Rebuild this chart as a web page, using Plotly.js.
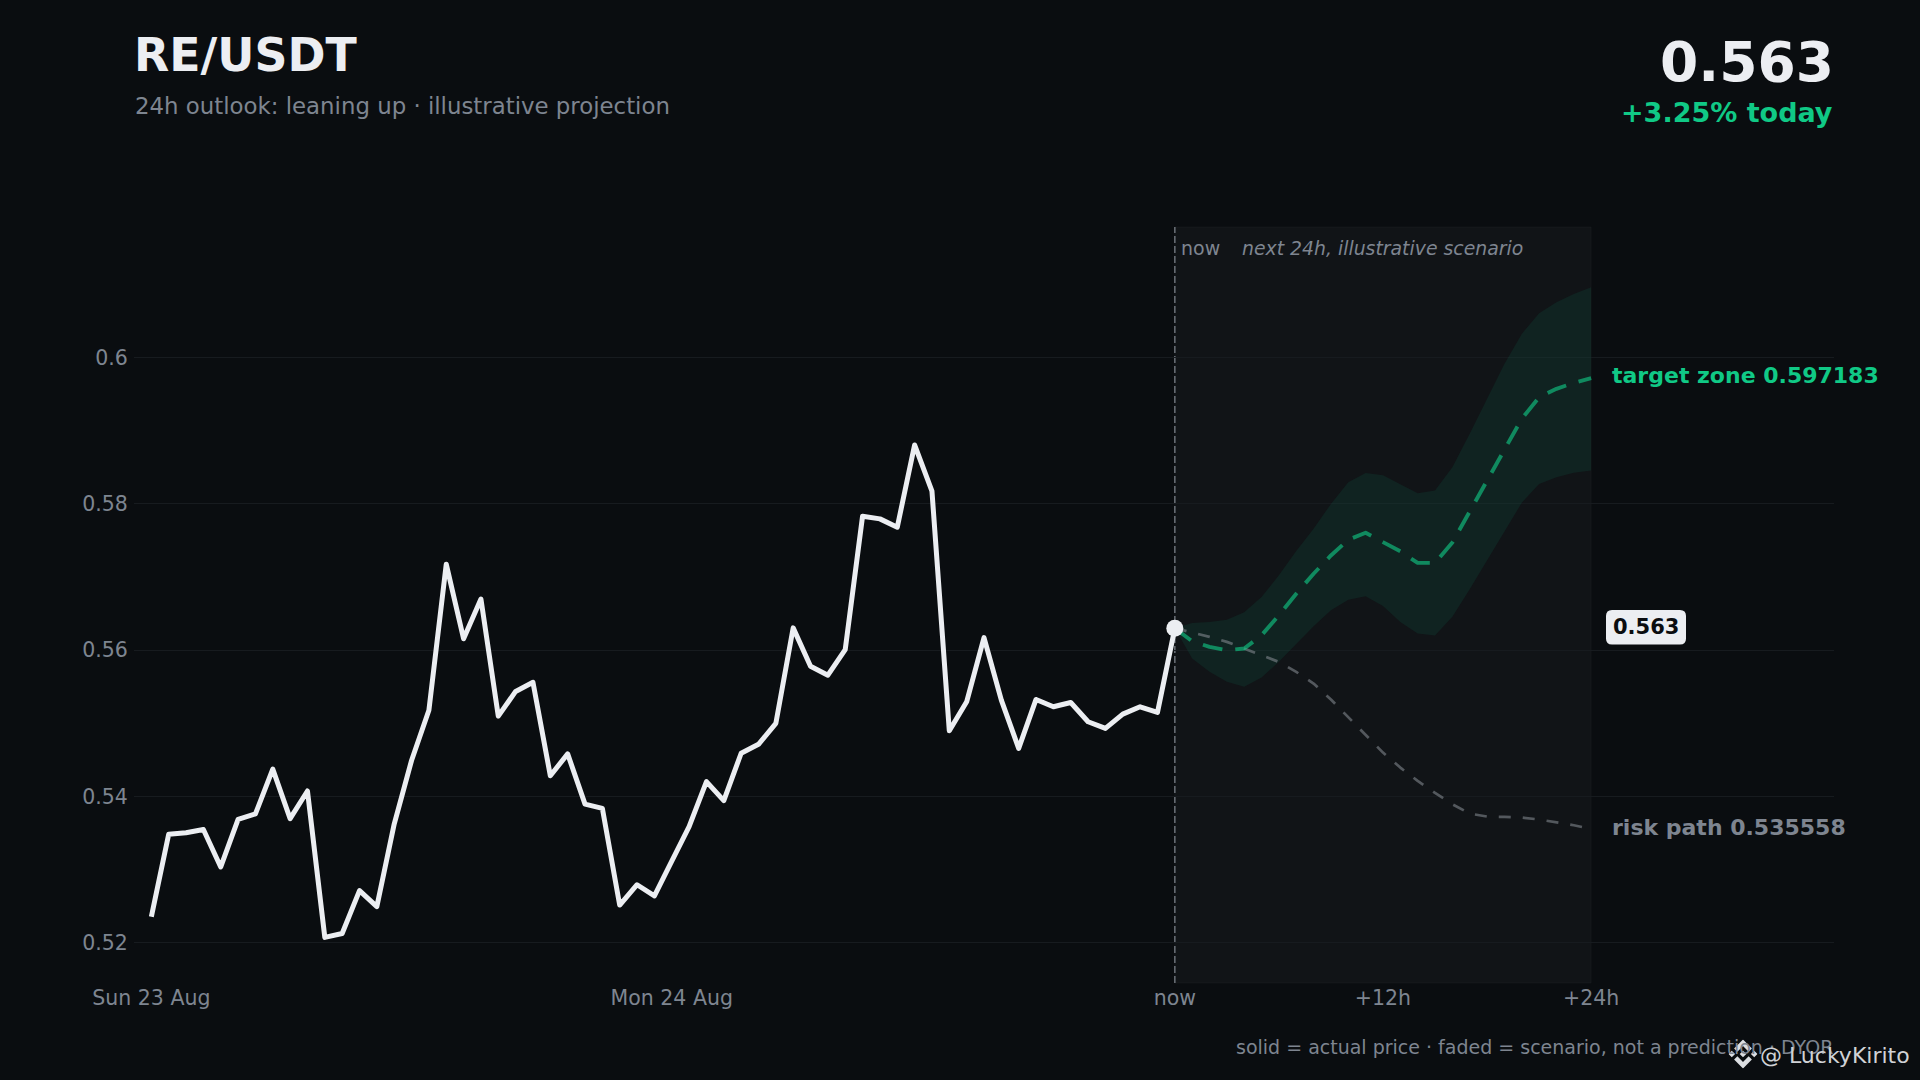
<!DOCTYPE html>
<html>
<head>
<meta charset="utf-8">
<title>RE/USDT</title>
<script src="https://cdn.plot.ly/plotly-3.0.1.min.js"></script>
<style>
  html, body { margin: 0; padding: 0; background: #0a0d10; }
  #grafico path.js-line { stroke-linejoin: round !important; }
</style>
</head>
<body>
<div id="grafico" style="width:1920px;height:1080px;"></div>
<script>
/* =========================================
   DATA
========================================= */

const precoReal = [
    0.52358, 0.53485, 0.53505, 0.5355, 0.53038, 0.53689, 0.53763, 0.54374, 0.53699, 0.54076,
    0.52075, 0.52129, 0.52715, 0.52497, 0.53624, 0.54493, 0.55179, 0.57176, 0.56157, 0.5670,
    0.55099, 0.55437, 0.55561, 0.54285, 0.54583, 0.53897, 0.53838, 0.52517, 0.52795, 0.52642,
    0.53116, 0.5359, 0.54205, 0.53945, 0.54592, 0.54714, 0.55, 0.56305, 0.55782, 0.55659,
    0.56009, 0.57832, 0.57795, 0.57682, 0.58805, 0.58173, 0.549, 0.55295, 0.56173, 0.55318,
    0.54659, 0.55327, 0.55227, 0.55286, 0.55023, 0.54932, 0.55127, 0.55227, 0.5515, 0.563
];

const alvoCentro = [
    0.563, 0.56123, 0.56045, 0.56, 0.56023, 0.56205, 0.56477, 0.56773, 0.57045, 0.57295,
    0.57509, 0.57605, 0.57477, 0.57351, 0.57194, 0.57194, 0.57473, 0.579, 0.58319, 0.58729,
    0.59162, 0.59458, 0.59572, 0.59654, 0.597183
];

const alvoTopo = [
    0.563, 0.56373, 0.56386, 0.56418, 0.56518, 0.56727, 0.57023, 0.57355, 0.57659, 0.58,
    0.58295, 0.58423, 0.58392, 0.58264, 0.58146, 0.58182, 0.58501, 0.58957, 0.59435, 0.59913,
    0.60323, 0.60606, 0.60756, 0.6087, 0.60961
];

const alvoBase = [
    0.563, 0.55886, 0.55705, 0.55568, 0.555, 0.55627, 0.55841, 0.56082, 0.56327, 0.56545,
    0.56691, 0.56736, 0.56605, 0.56385, 0.56229, 0.56201, 0.56458, 0.56832, 0.57222, 0.5763,
    0.58015, 0.58273, 0.58364, 0.58424, 0.58456
];

const caminhoRisco = [
    0.563, 0.56246, 0.56182, 0.56114, 0.56023, 0.55941, 0.5584, 0.55704, 0.55544, 0.55326,
    0.55089, 0.54838, 0.54601, 0.54396, 0.54214, 0.5405, 0.53895, 0.53767, 0.53727, 0.53722,
    0.53713, 0.53686, 0.53649, 0.53608, 0.535558
];

const yTicks = [0.52, 0.54, 0.56, 0.58, 0.6];
const yTickLabels = ["0.52", "0.54", "0.56", "0.58", "0.6"];
const xTicks = [0, 30, 59, 71, 83];
const xTickLabels = ["Sun 23 Aug", "Mon 24 Aug", "now", "+12h", "+24h"];

/* =========================================
   HELPERS
========================================= */

// plot box in page pixels
const caixa = {l: 134, r: 1834, t: 227, b: 983};

const fonte = "'DejaVu Sans', sans-serif";

function px(x){ return (x - caixa.l) / (caixa.r - caixa.l); }
function py(y){ return (caixa.b - y) / (caixa.b - caixa.t); }

function texto(txt, x, y, size, color, anchor){
    return {
        text: txt,
        xref: "paper",
        yref: "paper",
        x: px(x),
        y: py(y),
        xanchor: anchor || "left",
        yanchor: "middle",
        showarrow: false,
        borderpad: 0,
        font: {family: fonte, size: size, color: color}
    };
}

// rounded label box behind the current price
function caixaArredondada(x0, y0, x1, y1, r){
    let X0 = px(x0), X1 = px(x1), Y0 = py(y0), Y1 = py(y1);
    let rx = r / (caixa.r - caixa.l), ry = r / (caixa.b - caixa.t);
    return "M " + (X0 + rx) + " " + Y0 +
        " L " + (X1 - rx) + " " + Y0 +
        " Q " + X1 + " " + Y0 + " " + X1 + " " + (Y0 - ry) +
        " L " + X1 + " " + (Y1 + ry) +
        " Q " + X1 + " " + Y1 + " " + (X1 - rx) + " " + Y1 +
        " L " + (X0 + rx) + " " + Y1 +
        " Q " + X0 + " " + Y1 + " " + X0 + " " + (Y1 + ry) +
        " L " + X0 + " " + (Y0 - ry) +
        " Q " + X0 + " " + Y0 + " " + (X0 + rx) + " " + Y0 + " Z";
}

const logoBinance = "data:image/svg+xml;utf8," + encodeURIComponent(
    '<svg xmlns="http://www.w3.org/2000/svg" viewBox="0 0 126.61 126.61"><path fill="#dcdee2" d="M38.73 53.2l24.59-24.58 24.6 24.6 14.3-14.31L63.32 0 24.43 38.9zM0 63.31l14.3-14.3 14.31 14.3-14.31 14.3zM38.73 73.41l24.59 24.59 24.6-24.6 14.31 14.29-38.9 38.91-38.91-38.88zM98 63.31l14.3-14.3 14.31 14.3-14.31 14.3zM77.83 63.3L63.32 48.78 52.59 59.51l-1.24 1.23-2.54 2.54 14.51 14.5 14.51-14.47z"/></svg>'
);

/* =========================================
   GRAPH
========================================= */

let agora = precoReal.length - 1;
let xReal = precoReal.map((v, i) => i);
let xFuturo = alvoCentro.map((v, i) => agora + i);

let faixaTopo = {
    x: xFuturo,
    y: alvoTopo,
    mode: "lines",
    line: {width: 0},
    hoverinfo: "skip"
};

let faixaBase = {
    x: xFuturo,
    y: alvoBase,
    mode: "lines",
    line: {width: 0},
    fill: "tonexty",
    fillcolor: "rgba(16,201,134,0.085)",
    hoverinfo: "skip"
};

let risco = {
    x: xFuturo,
    y: caminhoRisco,
    mode: "lines",
    line: {color: "rgba(138,143,152,0.55)", width: 2.7, dash: "12px,12px"}
};

let centro = {
    x: xFuturo,
    y: alvoCentro,
    mode: "lines",
    line: {color: "rgba(16,201,134,0.62)", width: 3.9, dash: "20px,13px"}
};

let preco = {
    x: xReal,
    y: precoReal,
    mode: "lines",
    line: {color: "#eceef2", width: 5}
};

let ponto = {
    x: [agora],
    y: [precoReal[agora]],
    mode: "markers",
    marker: {color: "#eceef2", size: 17}
};

let anotacoes = [
    texto("<b>RE/USDT</b>", 133, 55, 45.8, "#eceef2"),
    texto("24h outlook: leaning up · illustrative projection", 134, 106, 22.85, "#7e8590"),
    texto("<b>0.563</b>", 1835, 62, 55, "#eceef2", "right"),
    texto("<b>+3.25% today</b>", 1834, 112, 27, "#10c986", "right"),
    texto("now", 1180, 248, 19, "#7e8590"),
    texto("<i>next 24h, illustrative scenario</i>", 1241, 248, 18.85, "#7e8590"),
    texto("<b>target zone 0.597183</b>", 1611, 375, 22, "#10c986"),
    texto("<b>risk path 0.535558</b>", 1611, 827, 22, "#7e8590"),
    texto("<b>0.563</b>", 1645.5, 627, 21, "#0a0d10", "center"),
    texto("solid = actual price · faded = scenario, not a prediction · DYOR", 1834, 1047, 19, "#7e8590", "right"),
    texto("@ LuckyKirito", 1911, 1055, 22, "#d0d2d6", "right")
];

let layout = {
    width: 1920,
    height: 1080,
    paper_bgcolor: "#0a0d10",
    plot_bgcolor: "#0a0d10",
    showlegend: false,
    hovermode: false,
    margin: {l: caixa.l, r: 1920 - caixa.r, t: caixa.t, b: 1080 - caixa.b, pad: 0},
    font: {family: fonte, color: "#7e8590"},
    xaxis: {
        range: [-1, 97],
        tickmode: "array",
        tickvals: xTicks,
        ticktext: xTickLabels,
        ticks: "",
        showgrid: false,
        zeroline: false,
        showline: false,
        tickfont: {family: fonte, size: 20.5, color: "#7e8590"}
    },
    yaxis: {
        range: [0.51452, 0.61784],
        tickmode: "array",
        tickvals: yTicks,
        ticktext: yTickLabels,
        ticks: "outside",
        ticklen: 1,
        tickcolor: "rgba(0,0,0,0)",
        gridcolor: "#171b1f",
        gridwidth: 1,
        zeroline: false,
        showline: false,
        tickfont: {family: fonte, size: 20.5, color: "#7e8590"}
    },
    shapes: [
        {
            type: "rect",
            layer: "below",
            xref: "x",
            yref: "paper",
            x0: agora,
            x1: agora + 24,
            y0: 0,
            y1: 1,
            fillcolor: "rgba(255,255,255,0.03)",
            line: {color: "rgba(255,255,255,0.035)", width: 1}
        },
        {
            type: "line",
            layer: "below",
            xref: "x",
            yref: "paper",
            x0: agora,
            x1: agora,
            y0: 0,
            y1: 1,
            line: {color: "#666b72", width: 1.6, dash: "7px,3px"}
        },
        {
            type: "path",
            xref: "paper",
            yref: "paper",
            path: caixaArredondada(1606, 610, 1686, 644.5, 6),
            fillcolor: "#eceef2",
            line: {width: 0}
        }
    ],
    annotations: anotacoes,
    images: [{
        source: logoBinance,
        xref: "paper",
        yref: "paper",
        x: px(1743),
        y: py(1054),
        sizex: 29 / (caixa.r - caixa.l),
        sizey: 29 / (caixa.b - caixa.t),
        xanchor: "center",
        yanchor: "middle",
        layer: "above"
    }]
};

Plotly.newPlot(
    "grafico",
    [faixaTopo, faixaBase, risco, centro, preco, ponto],
    layout,
    {displayModeBar: false, responsive: false}
);
</script>
</body>
</html>
